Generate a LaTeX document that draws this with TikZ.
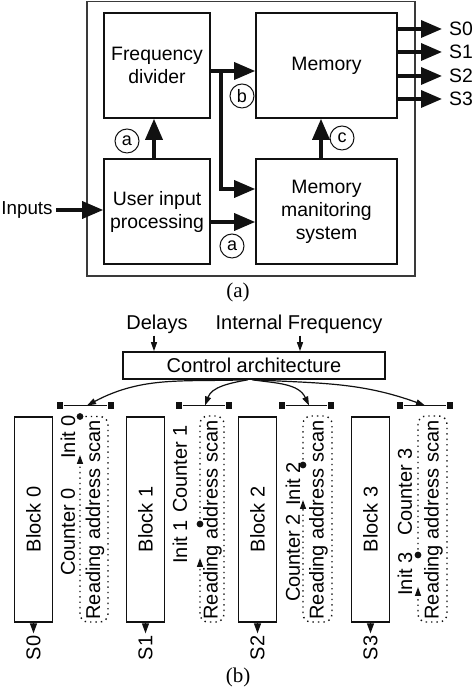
\documentclass[tikz,border=0pt]{standalone}
\usepackage{fontspec}
\setmainfont{Liberation Sans}
\newfontfamily\capserif{Liberation Serif}
\usepackage{xcolor}
\usepackage{tikz}
\usetikzlibrary{arrows.meta}
\definecolor{ink}{HTML}{111111}
\definecolor{frame}{HTML}{3A3A3A}
\tikzset{
  unit/.style={draw=ink,line width=.8pt,minimum width=53pt,minimum height=52.5pt,align=center,inner sep=0pt,font=\fontsize{9.7}{11.5}\selectfont},
  bus/.style={ink,line width=1.7pt,-{Triangle[length=10.5pt,width=8.5pt]}},
  tag/.style={draw=ink,circle,line width=.5pt,inner sep=0pt,minimum size=12pt,font=\fontsize{9}{9}\selectfont},
  feed/.style={ink,line width=.6pt,-{Triangle[length=4.5pt,width=3pt]}},
  lane/.style={draw=ink,line width=.8pt,minimum width=19pt,minimum height=102.5pt,inner sep=0pt},
  upright/.style={rotate=90,inner sep=1pt},
  knob/.style={fill=ink,inner sep=0pt,minimum size=3.2pt},
  scanloop/.style={ink,dotted,line width=.7pt,rounded corners=4pt,-{Triangle[length=4.5pt,width=3pt]}},
  seed/.style={circle,fill=ink,inner sep=0pt,minimum size=3.4pt},
}
\begin{document}
\begin{tikzpicture}[x=.5pt,y=.5pt,every node/.style={font=\fontsize{10}{12}\selectfont}]
        \useasboundingbox (0,0) rectangle (474,689);
        \draw[frame,line width=.7pt] (87,413) rectangle (415,687.5);
        \node[unit] (fd) at (157,623.5) {Frequency\\divider};
        \node[unit,minimum width=70.5pt] (mem) at (326.5,623.5) {Memory};
        \node[unit] (uip) at (157,477.5) {User input\\processing};
        \node[unit,minimum width=70.5pt] (mms) at (326.5,477.5) {Memory\\manitoring\\system};
        \coordinate (fork) at (221,618);
        \coordinate (mmin) at (mms.west |- 0,500);
        \draw[bus] ([xshift=-1.5pt]uip.north) -- ([xshift=-1.5pt]fd.south);
        \draw[bus] (fd.east |- fork) -- (mem.west |- fork);
        \draw[bus] (fork) |- (mmin);
        \draw[bus] ([xshift=-2.75pt]mms.north) -- ([xshift=-2.75pt]mem.south);
        \draw[bus] (uip.east |- 0,467) -- (mms.west |- 0,467);
        \node[tag] (ta1) at (127,548) {a};
        \node[tag] (tb) at (242,593) {b};
        \node[tag] (tc) at (342,551) {c};
        \node[tag] (ta2) at (232,443) {a};
        \node[anchor=east,inner sep=1pt,font=\fontsize{9.4}{11}\selectfont] (inp) at (55,479) {Inputs};
        \draw[bus] ([xshift=.5pt]inp.east) -- (uip.west |- inp.east);
        \node[anchor=west,font=\fontsize{9.7}{11}\selectfont] (s0) at (442,660) {S0};
        \node[anchor=west,font=\fontsize{9.7}{11}\selectfont] (s1) at (442,637) {S1};
        \node[anchor=west,font=\fontsize{9.7}{11}\selectfont] (s2) at (442,613) {S2};
        \node[anchor=west,font=\fontsize{9.7}{11}\selectfont] (s3) at (442,590) {S3};
        \draw[bus] (mem.east |- s0.west) -- (s0.west);
        \draw[bus] (mem.east |- s1.west) -- (s1.west);
        \draw[bus] (mem.east |- s2.west) -- (s2.west);
        \draw[bus] (mem.east |- s3.west) -- (s3.west);
        \node[font=\capserif\fontsize{10.5}{12}\selectfont] (capa) at (238,397) {(a)};
        \node[inner sep=1pt] (dly) at (157,365) {Delays};
        \node[inner sep=1pt] (ifq) at (299,365) {Internal Frequency};
        \node[draw=ink,line width=.8pt,minimum width=131pt,minimum height=13.5pt,inner sep=0pt] (ca) at (254,323.5) {Control architecture};
        \draw[feed] (dly.south -| 154,0) -- (ca.north -| 154,0);
        \draw[feed] (ifq.south -| 300,0) -- (ca.north -| 300,0);
        \node[knob] (b0l) at (60,283.5) {}; \node[knob] (b0r) at (111,283.5) {}; \coordinate (t0) at (87,283.5);
        \node[knob] (b1l) at (179,283.5) {}; \node[knob] (b1r) at (229,283.5) {}; \coordinate (t1) at (205,283.5);
        \node[knob] (b2l) at (282,283.5) {}; \node[knob] (b2r) at (331,283.5) {}; \coordinate (t2) at (309,283.5);
        \node[knob] (b3l) at (400,283.5) {}; \node[knob] (b3r) at (450,283.5) {}; \coordinate (t3) at (425,283.5);
        \draw[ink,line width=.7pt] (b0l) -- (b0r); \draw[ink,line width=.7pt] (b1l) -- (b1r);
        \draw[ink,line width=.7pt] (b2l) -- (b2r); \draw[ink,line width=.7pt] (b3l) -- (b3r);
        \draw[feed] ([xshift=-4pt]ca.south) to[out=182,in=28] (t0);
        \draw[feed] ([xshift=-3pt]ca.south) to[out=190,in=70] (t1);
        \draw[feed] ([xshift=-1pt]ca.south) to[out=-8,in=115] (t2);
        \draw[feed] (ca.south) to[out=-3,in=160] (t3);
        \node[lane] (blk0) at (33.5,169.5) {\rotatebox{90}{Block 0}};
        \node[lane] (blk1) at (145.5,169.5) {\rotatebox{90}{Block 1}};
        \node[lane] (blk2) at (257.5,169.5) {\rotatebox{90}{Block 2}};
        \node[lane] (blk3) at (370.5,169.5) {\rotatebox{90}{Block 3}};
        \node[upright] (o0) at (33.5,41) {S0};
        \node[upright] (o1) at (145.5,41) {S1};
        \node[upright] (o2) at (257.5,41) {S2};
        \node[upright] (o3) at (370.5,41) {S3};
        \draw[feed,-{Triangle[length=5pt,width=3.5pt]}] (blk0.south) -- (o0.east);
        \draw[feed,-{Triangle[length=5pt,width=3.5pt]}] (blk1.south) -- (o1.east);
        \draw[feed,-{Triangle[length=5pt,width=3.5pt]}] (blk2.south) -- (o2.east);
        \draw[feed,-{Triangle[length=5pt,width=3.5pt]}] (blk3.south) -- (o3.east);
        \node[seed] (i0) at (80,272.5) {}; \coordinate (e0) at (80,234);
        \node[seed] (i1) at (200,165) {}; \coordinate (e1) at (200,131);
        \node[seed] (i2) at (303,224) {}; \coordinate (e2) at (303,189);
        \node[seed] (i3) at (418,134) {}; \coordinate (e3) at (418,102);
        \draw[scanloop] (i0.center) -- (108,272.5) -- (108,67) -- (80,67) -- (e0);
        \draw[scanloop] (i1.center) -- (200,273) -- (224,273) -- (224,67) -- (200,67) -- (e1);
        \draw[scanloop] (i2.center) -- (303,273) -- (332,273) -- (332,67) -- (303,67) -- (e2);
        \draw[scanloop] (i3.center) -- (418,273) -- (447,273) -- (447,67) -- (418,67) -- (e3);
        \node[upright] (r0) at (95,169) {Reading address scan};
        \node[upright] (r1) at (212.5,169) {Reading address scan};
        \node[upright] (r2) at (318.5,169) {Reading address scan};
        \node[upright] (r3) at (433.5,169) {Reading address scan};
        \node[upright] (c0) at (68,157) {Counter 0}; \node[upright] (n0) at (68,252) {Init 0};
        \node[upright] (c1) at (180,220) {Counter 1}; \node[upright] (n1) at (180,147) {Init 1};
        \node[upright] (c2) at (293,131) {Counter 2}; \node[upright] (n2) at (293,205) {Init 2};
        \node[upright] (c3) at (405,197) {Counter 3}; \node[upright] (n3) at (405,115) {Init 3};
        \node[font=\capserif\fontsize{10.5}{12}\selectfont] (capb) at (238,12) {(b)};
      \end{tikzpicture}
\end{document}
